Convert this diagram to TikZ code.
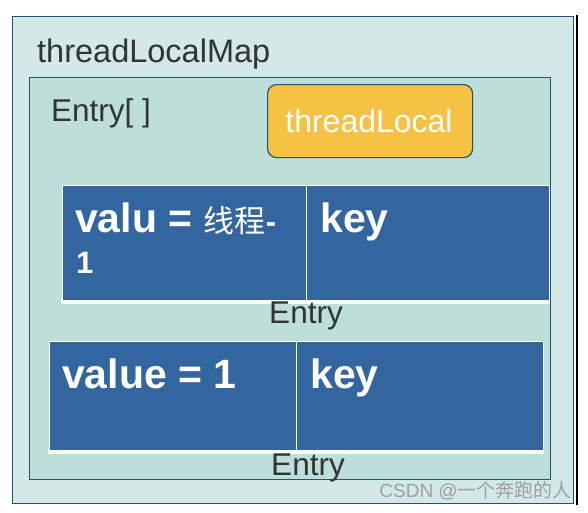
\documentclass[tikz,border=0pt]{standalone}
\usepackage{fontspec}
\setmainfont{Liberation Sans}
\newfontfamily\cjk{Noto Sans CJK SC}
\definecolor{outerbg}{HTML}{D3E9E7}
\definecolor{innerbg}{HTML}{BCDFDA}
\definecolor{frame}{HTML}{24507D}
\definecolor{entryblue}{HTML}{33669E}
\definecolor{tlyellow}{HTML}{F5C243}
\definecolor{tlframe}{HTML}{2C4F70}
\definecolor{labelgray}{HTML}{333333}
\begin{document}
\begin{tikzpicture}[x=1pt,y=-1pt,
  framebox/.style={draw=frame, line width=1.3pt, inner sep=0pt, anchor=north west},
  cell/.style={fill=entryblue, draw=white, line width=1.2pt, inner sep=0pt, anchor=north west},
  celltext/.style={text=white, font=\fontsize{41}{41}\selectfont\bfseries, inner sep=0pt, anchor=base west},
  smalltext/.style={text=white, font=\fontsize{31}{31}\selectfont\bfseries, inner sep=0pt, anchor=base west},
  plain/.style={text=labelgray, font=\fontsize{31.5}{31.5}\selectfont, inner sep=0pt},
  tlbox/.style={fill=tlyellow, draw=tlframe, line width=1.2pt, rounded corners=9pt, inner sep=0pt, anchor=north west},
  shadowstrip/.style={fill=white, draw=none}
]
\useasboundingbox (0,0) rectangle (588,512);
\fill[white] (0,0) rectangle (588,512);

% outer map
\node[framebox, fill=outerbg, minimum width=561pt, minimum height=487pt] (map) at (12,16) {};
\draw[black, line width=2.2pt] ([xshift=2.5pt,yshift=1pt]map.north east) -- ([xshift=2.5pt,yshift=-1pt]map.south east);
\node[plain, anchor=base west, font=\fontsize{32.5}{32.5}\selectfont] (maplabel) at (37,62) {threadLocalMap};

% inner entry array
\node[framebox, fill=innerbg, minimum width=521pt, minimum height=402pt] (arr) at (29,77) {};
\node[plain, anchor=base west] (arrlabel) at (51,121) {Entry[ ]};

% threadLocal
\node[tlbox, minimum width=205pt, minimum height=73pt] (tl) at (267,84) {};
\node[text=white, font=\fontsize{32}{32}\selectfont, inner sep=0pt, anchor=base] (tltext) at (369,132) {threadLocal};

% entry 1
\fill[shadowstrip] (61,299) rectangle (550,304);
\node[cell, minimum width=244pt, minimum height=115pt] (e1v) at (62,185) {};
\node[cell, minimum width=243pt, minimum height=115pt] (e1k) at (306,185) {};
\node[celltext] (e1vt) at (75,232) {valu = {\fontsize{31}{31}\selectfont{\cjk\mdseries 线程}-}};
\node[smalltext] (e1vt2) at (76,273) {1};
\node[celltext] (e1kt) at (320,232) {key};
\node[plain, anchor=base] (e1label) at (306,323) {Entry};

% entry 2
\fill[shadowstrip] (48,449) rectangle (544,454);
\node[cell, minimum width=247pt, minimum height=109pt] (e2v) at (49,341) {};
\node[cell, minimum width=247pt, minimum height=109pt] (e2k) at (296,341) {};
\node[celltext] (e2vt) at (62,388) {value = 1};
\node[celltext] (e2kt) at (310,388) {key};
\node[plain, anchor=base] (e2label) at (308,475) {Entry};

% watermark
\node[text=gray!75, font=\fontsize{19}{19}\selectfont, inner sep=0pt, anchor=base east] (wm) at (572,497) {CSDN @{\cjk 一个奔跑的人}};
\end{tikzpicture}
\end{document}
